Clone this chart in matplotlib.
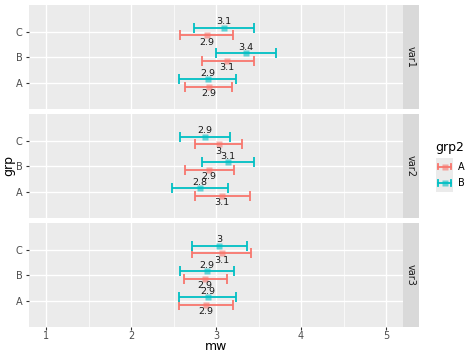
import matplotlib
matplotlib.use("Agg")
import matplotlib.pyplot as plt
import numpy as np

W, H = 474, 358
categories = ["A", "B", "C"]
panels = ["var1", "var2", "var3"]

# grp2 = A (red)
mw_A = {"var1": [2.92, 3.13, 2.89], "var2": [3.07, 2.92, 3.03], "var3": [2.88, 2.87, 3.07]}
lo_A = {"var1": [2.64, 2.83, 2.58], "var2": [2.75, 2.64, 2.75], "var3": [2.57, 2.62, 2.72]}
hi_A = {"var1": [3.19, 3.45, 3.20], "var2": [3.40, 3.21, 3.31], "var3": [3.20, 3.13, 3.41]}
lab_A = {"var1": ["2.9", "3.1", "2.9"], "var2": ["3.1", "2.9", "3"], "var3": ["2.9", "2.9", "3.1"]}
# grp2 = B (teal)
mw_B = {"var1": [2.90, 3.35, 3.09], "var2": [2.81, 3.14, 2.87], "var3": [2.90, 2.89, 3.04]}
lo_B = {"var1": [2.57, 3.00, 2.74], "var2": [2.48, 2.84, 2.58], "var3": [2.57, 2.58, 2.72]}
hi_B = {"var1": [3.23, 3.71, 3.45], "var2": [3.14, 3.45, 3.16], "var3": [3.23, 3.21, 3.36]}
lab_B = {"var1": ["2.9", "3.4", "3.1"], "var2": ["2.8", "3.1", "2.9"], "var3": ["2.9", "2.9", "3"]}

xticks = [1, 2, 3, 4, 5]
colA, colB = "#F8766D", "#00BFC4"

fig = plt.figure(figsize=(W / 100, H / 100), dpi=100)

def fx(px):
    return px / W

def fy(py):
    return 1 - py / H

panel_px = [(5, 109), (114, 218), (223, 327)]
L, R, SR = 29, 403, 419
dodge = 0.15

for i, (pname, (top, bot)) in enumerate(zip(panels, panel_px)):
    ax = fig.add_axes([fx(L), fy(bot), fx(R) - fx(L), (bot - top) / H])
    ax.set_facecolor("#EBEBEB")
    ax.set_xlim(0.8, 5.2)
    ax.set_ylim(-0.01, 4.03)
    for x in xticks:
        ax.axvline(x, color="white", lw=1.0, zorder=0)
    for x in np.array(xticks[:-1]) + 0.5:
        ax.axvline(x, color="white", lw=0.5, zorder=0)
    ypos = np.arange(1, len(categories) + 1)
    for y in ypos:
        ax.axhline(y, color="white", lw=1.0, zorder=0)
    for s in ax.spines.values():
        s.set_visible(False)
    yA = ypos - dodge
    yB = ypos + dodge
    for yy, m, lo, hi, labs, c, off in [
        (yA, mw_A[pname], lo_A[pname], hi_A[pname], lab_A[pname], colA, -0.26),
        (yB, mw_B[pname], lo_B[pname], hi_B[pname], lab_B[pname], colB, 0.22),
    ]:
        m = np.array(m)
        xerr = [m - np.array(lo), np.array(hi) - m]
        ax.errorbar(m, yy, xerr=xerr, fmt="none", ecolor=c, elinewidth=1.3,
                    capsize=3.8, capthick=1.3, zorder=3)
        ax.plot(m, yy, "s", color=c, ms=4.8, alpha=0.6, mec="none", zorder=4)
        for xv, yv, t in zip(m, yy, labs):
            ax.text(xv, yv + off, t, ha="center", va="center", fontsize=6.8,
                    color="#1a1a1a", zorder=5)
    ax.set_yticks(ypos)
    ax.set_yticklabels(categories, fontsize=7, color="#4D4D4D")
    ax.tick_params(axis="y", length=2.5, width=0.8, color="#333333", pad=2)
    if i < 2:
        ax.set_xticks([])
    else:
        ax.set_xticks(xticks)
        ax.set_xticklabels([str(x) for x in xticks], fontsize=7, color="#4D4D4D")
        ax.tick_params(axis="x", length=2.5, width=0.8, color="#333333", pad=0.5)
    # strip
    sax = fig.add_axes([fx(R), fy(bot), fx(SR) - fx(R), (bot - top) / H])
    sax.set_facecolor("#D9D9D9")
    sax.set_xticks([]); sax.set_yticks([])
    for s in sax.spines.values():
        s.set_visible(False)
    sax.text(0.5, 0.5, pname, rotation=-90, ha="center", va="center",
             fontsize=7, color="#1A1A1A", transform=sax.transAxes)

fig.text(fx(216), fy(350.5), "mw", fontsize=9, ha="center", va="baseline", color="black")
fig.text(fx(8.5), fy(166), "grp", fontsize=9, ha="center", va="center", rotation=90, color="black")

# legend
fig.text(fx(435), fy(148), "grp2", fontsize=9, ha="left", va="center", color="black")
for yk, c, t in [(166.5, colA, "A"), (183, colB, "B")]:
    kax = fig.add_axes([fx(436), fy(yk + 8.5), 17 / W, 17 / H])
    kax.set_facecolor("#EBEBEB")
    kax.set_xlim(0, 1); kax.set_ylim(0, 1)
    kax.set_xticks([]); kax.set_yticks([])
    for s in kax.spines.values():
        s.set_visible(False)
    kax.plot([0.1, 0.9], [0.5, 0.5], color=c, lw=1.3)
    kax.plot([0.1, 0.1], [0.35, 0.65], color=c, lw=1.3)
    kax.plot([0.9, 0.9], [0.35, 0.65], color=c, lw=1.3)
    kax.plot([0.5], [0.5], "s", color=c, ms=4.8, alpha=0.6, mec="none")
    fig.text(fx(458), fy(yk), t, fontsize=7, ha="left", va="center", color="black")

fig.savefig("out.png", dpi=100)
